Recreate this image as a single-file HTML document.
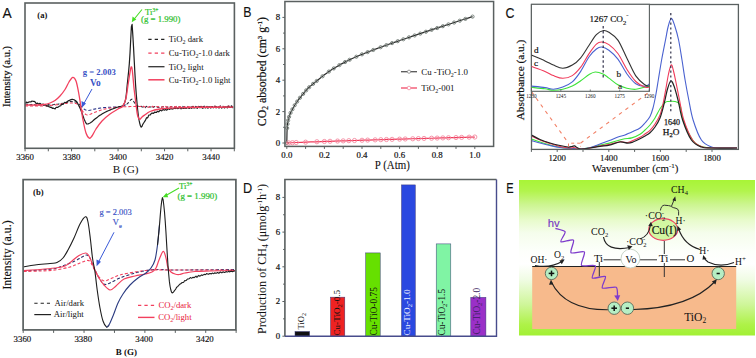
<!DOCTYPE html>
<html><head><meta charset="utf-8"><style>html,body{margin:0;padding:0;background:#fff;}svg{display:block;}</style></head><body>
<svg width="756" height="358" viewBox="0 0 756 358">
<rect width="756" height="358" fill="#fff"/>
<text id="t1" x="2.6" y="17.6" font-family='"Liberation Sans", sans-serif' font-size="14.6" fill="#111" font-weight="normal" text-anchor="start"  textLength="9.2" lengthAdjust="spacingAndGlyphs" stroke="#111" stroke-width="0.12">A</text>
<text id="t2" x="243.2" y="17.1" font-family='"Liberation Sans", sans-serif' font-size="14.6" fill="#111" font-weight="normal" text-anchor="start"  textLength="8.2" lengthAdjust="spacingAndGlyphs" stroke="#111" stroke-width="0.12">B</text>
<text id="t3" x="505.5" y="17.8" font-family='"Liberation Sans", sans-serif' font-size="14.6" fill="#111" font-weight="normal" text-anchor="start"  textLength="9" lengthAdjust="spacingAndGlyphs" stroke="#111" stroke-width="0.12">C</text>
<text id="t4" x="243" y="193" font-family='"Liberation Sans", sans-serif' font-size="14.6" fill="#111" font-weight="normal" text-anchor="start"  textLength="9.2" lengthAdjust="spacingAndGlyphs" stroke="#111" stroke-width="0.12">D</text>
<text id="t5" x="506.2" y="193.3" font-family='"Liberation Sans", sans-serif' font-size="14.6" fill="#111" font-weight="normal" text-anchor="start"  textLength="7.4" lengthAdjust="spacingAndGlyphs" stroke="#111" stroke-width="0.12">E</text>
<path d="M25 104.33 L25.7 104.17 L26.4 104.1 L27.1 104.11 L27.8 104.56 L28.5 104.08 L29.2 104.11 L29.9 104.61 L30.6 104.69 L31.3 104.78 L32 104.36 L32.7 104.76 L33.4 104.83 L34.1 105 L34.8 104.51 L35.5 105.26 L36.2 105.33 L36.9 104.87 L37.6 104.92 L38.3 105.37 L39 104.99 L39.7 104.72 L40.4 104.61 L41.1 105.18 L41.8 105.29 L42.5 104.74 L43.2 104.92 L43.9 105.13 L44.6 104.82 L45.3 104.5 L46 105.02 L46.7 105.14 L47.4 105.01 L48.1 104.5 L48.8 104.85 L49.5 105.08 L50.2 104.84 L50.9 104.43 L51.6 104.77 L52.3 104.95 L53 104.67 L53.7 104.54 L54.4 104.37 L55.1 104.9 L55.8 104.63 L56.5 104.07 L57.2 104.17 L57.9 104.31 L58.6 104.2 L59.3 103.59 L60 104.11 L60.7 103.91 L61.4 103.66 L62.1 103.28 L62.8 103.57 L63.5 103.51 L64.2 102.79 L64.9 103.05 L65.6 103.17 L66.3 102.92 L67 102.58 L67.7 102.1 L68.4 102.5 L69.1 101.94 L69.8 101.67 L70.5 101.41 L71.2 101.58 L71.9 101.85 L72.6 101.33 L73.3 101.39 L74 101.7 L74.7 101.91 L75.4 101.88 L76.1 102.02 L76.8 102.31 L77.5 102.77 L78.2 103.35 L78.9 104 L79.6 104.65 L80.3 105.27" fill="none" stroke="#2a2a3a" stroke-width="1.1" stroke-dasharray="3,2" stroke-linejoin="round"/>
<path d="M80.3 105.27 L81 106 L81.7 106.79 L82.4 107.58 L83.1 108.3 L83.8 108.87 L84.5 109.3 L85.2 109.7 L85.9 110.06 L86.6 110.33 L87.3 110.48 L88 110.49 L88.7 110.43 L89.4 110.33 L90.1 110.2 L90.8 110.04 L91.5 109.86 L92.2 109.67 L92.9 109.48 L93.6 109.3 L94.3 109.14 L95 109 L95.7 108.88 L96.4 108.75 L97.1 108.63 L97.8 108.5 L98.5 108.38 L99.2 108.26 L99.9 108.14 L100.6 108.03 L101.3 107.92 L102 107.82 L102.7 107.73 L103.4 107.65 L104.1 107.58 L104.8 107.52 L105.5 107.46 L106.2 107.42 L106.9 107.38 L107.6 107.35 L108.3 107.32 L109 107.29 L109.7 107.27 L110.4 107.25 L111.1 107.22 L111.8 107.2 L112.5 107.19 L113.2 107.16 L113.9 107.14 L114.6 107.12 L115.3 107.09 L116 107.06 L116.7 107.03 L117.4 106.99 L118.1 106.95 L118.8 106.9 L119.5 106.84 L120.2 106.78 L120.9 106.67 L121.6 106.5 L122.3 106.29 L123 106.03 L123.7 105.74 L124.4 105.41 L125.1 105.06 L125.8 104.68 L126.5 104.29" fill="none" stroke="#2a3488" stroke-width="1.1" stroke-dasharray="3,2" stroke-linejoin="round"/>
<path d="M126.5 104.29 L127.2 103.87 L127.9 103.24 L128.6 102.41 L129.3 101.5 L130 100.61 L130.7 99.86 L131.4 99.35 L132.1 99.21 L132.8 99.92 L133.5 101.18 L134.2 102.29 L134.9 103.42 L135.6 104.57 L136.3 105.51 L137 106 L137.7 106.17 L138.4 106.33 L139.1 106.47 L139.8 106.59 L140.5 106.67 L141.2 106.26 L141.9 106.85 L142.6 106.95 L143.3 107.18 L144 106.78 L144.7 107.08 L145.4 107.57 L146.1 106.41 L146.8 106.55 L147.5 107.6 L148.2 107.02 L148.9 107.13 L149.6 106.67 L150.3 107 L151 106.94 L151.7 106.78 L152.4 106.29 L153.1 107.51 L153.8 106.83 L154.5 106.55 L155.2 106.81 L155.9 107.33 L156.6 107.5 L157.3 106.83 L158 107.12 L158.7 107.48 L159.4 107.28 L160.1 106.83 L160.8 106.64 L161.5 107.27 L162.2 106.74 L162.9 106.69 L163.6 106.88 L164.3 107.09 L165 106.78 L165.7 106.61 L166.4 107.14 L167.1 107.53 L167.8 106.92 L168.5 106.81 L169.2 106.68 L169.9 107.41 L170.6 106.49 L171.3 106.52 L172 106.9 L172.7 107.25 L173.4 106.62 L174.1 106.83 L174.8 107.27 L175.5 107.24 L176.2 106.77 L176.9 106.67 L177.6 106.74 L178.3 107.06 L179 106.58 L179.7 106.45 L180.4 107.56 L181.1 107.15 L181.8 106.38 L182.5 106.38 L183.2 107.2 L183.9 106.76 L184.6 106.52 L185.3 106.49 L186 107.26 L186.7 107.6 L187.4 106.89 L188.1 107.04 L188.8 107.66 L189.5 107.33 L190.2 106.68 L190.9 106.75 L191.6 106.97 L192.3 106.79 L193 106.84 L193.7 106.72 L194.4 107.18 L195.1 106.91 L195.8 106.32 L196.5 107.36 L197.2 107.23 L197.9 106.24 L198.6 106.67 L199.3 106.64 L200 107.6 L200.7 106.59 L201.4 106.14 L202.1 107.19 L202.8 106.75 L203.5 106.42 L204.2 106.15 L204.9 106.9 L205.6 106.89 L206.3 107.08 L207 106.42 L207.7 107.08 L208.4 107.06 L209.1 106.65 L209.8 106.78 L210.5 106.98 L211.2 107.18 L211.9 106.45 L212.6 106.58 L213.3 107.44 L214 106.96 L214.7 106.11 L215.4 106.28 L216.1 107.19 L216.8 106.53 L217.5 106.08 L218.2 106.2 L218.9 107.14 L219.6 106.54 L220.3 105.93 L221 106.34 L221.7 106.78 L222.4 106.53 L223.1 106.28 L223.8 106.96 L224.5 107.04 L225.2 106.77 L225.9 106.53 L226.6 106.94 L227.3 107.21 L228 106.22 L228.7 105.91 L229.4 106.73 L230.1 106.64 L230.8 106.26 L231.5 105.79 L232.2 106.47 L232.9 107.02 L233 106.54" fill="none" stroke="#26283a" stroke-width="1.1" stroke-dasharray="3,2" stroke-linejoin="round"/>
<path d="M25 106 L25.7 106 L26.4 106 L27.1 106 L27.8 106 L28.5 106 L29.2 106 L29.9 106 L30.6 106 L31.3 106 L32 106 L32.7 106 L33.4 106 L34.1 106 L34.8 106 L35.5 106 L36.2 106 L36.9 106 L37.6 106 L38.3 106 L39 106 L39.7 106 L40.4 106 L41.1 105.99 L41.8 105.98 L42.5 105.96 L43.2 105.93 L43.9 105.9 L44.6 105.87 L45.3 105.83 L46 105.78 L46.7 105.74 L47.4 105.69 L48.1 105.63 L48.8 105.57 L49.5 105.51 L50.2 105.45 L50.9 105.39 L51.6 105.32 L52.3 105.26 L53 105.19 L53.7 105.12 L54.4 105.06 L55.1 104.99 L55.8 104.91 L56.5 104.82 L57.2 104.72 L57.9 104.61 L58.6 104.5 L59.3 104.37 L60 104.25 L60.7 104.13 L61.4 104 L62.1 103.89 L62.8 103.78 L63.5 103.68 L64.2 103.59 L64.9 103.51 L65.6 103.44 L66.3 103.37 L67 103.3 L67.7 103.24 L68.4 103.18 L69.1 103.12 L69.8 103.07 L70.5 103.04 L71.2 103.01 L71.9 103 L72.6 103.01 L73.3 103.06 L74 103.14 L74.7 103.25 L75.4 103.37 L76.1 103.52 L76.8 103.83 L77.5 104.35 L78.2 105.01 L78.9 105.76 L79.6 106.55 L80.3 107.36 L81 108.41 L81.7 109.62 L82.4 110.85 L83.1 111.96 L83.8 112.82 L84.5 113.4 L85.2 113.95 L85.9 114.42 L86.6 114.78 L87.3 114.98 L88 114.98 L88.7 114.85 L89.4 114.62 L90.1 114.33 L90.8 114 L91.5 113.65 L92.2 113.32 L92.9 113.04 L93.6 112.79 L94.3 112.53 L95 112.27 L95.7 112 L96.4 111.74 L97.1 111.47 L97.8 111.2 L98.5 110.94 L99.2 110.69 L99.9 110.44 L100.6 110.2 L101.3 109.97 L102 109.75 L102.7 109.55 L103.4 109.36 L104.1 109.19 L104.8 109.04 L105.5 108.9 L106.2 108.77 L106.9 108.64 L107.6 108.52 L108.3 108.39 L109 108.27 L109.7 108.16 L110.4 108.05 L111.1 107.94 L111.8 107.84 L112.5 107.74 L113.2 107.64 L113.9 107.55 L114.6 107.47 L115.3 107.39 L116 107.31 L116.7 107.25 L117.4 107.18 L118.1 107.12 L118.8 107.07 L119.5 107.03 L120.2 106.99 L120.9 106.95 L121.6 106.92 L122.3 106.88 L123 106.85 L123.7 106.81 L124.4 106.78 L125.1 106.75 L125.8 106.72 L126.5 106.69 L127.2 106.66 L127.9 106.64 L128.6 106.61 L129.3 106.59 L130 106.57 L130.7 106.55 L131.4 106.54 L132.1 106.52 L132.8 106.51 L133.5 106.51 L134.2 106.5 L134.9 106.5 L135.6 106.5 L136.3 106.51 L137 106.51 L137.7 106.53 L138.4 106.54 L139.1 106.55 L139.8 106.57 L140.5 106.57 L141.2 106.47 L141.9 106.44 L142.6 107.15 L143.3 106.36 L144 106.6 L144.7 106.95 L145.4 106.81 L146.1 106.52 L146.8 106.68 L147.5 107.13 L148.2 107.26 L148.9 106.94 L149.6 106.47 L150.3 107.22 L151 106.88 L151.7 106.45 L152.4 106.35 L153.1 106.75 L153.8 106.93 L154.5 106.41 L155.2 106.47 L155.9 106.78 L156.6 106.77 L157.3 106.53 L158 106.57 L158.7 106.9 L159.4 106.75 L160.1 106.68 L160.8 106.69 L161.5 107.34 L162.2 107.08 L162.9 106.57 L163.6 106.66 L164.3 106.86 L165 107.07 L165.7 106.34 L166.4 106.84 L167.1 107.14 L167.8 106.71 L168.5 106.48 L169.2 106.71 L169.9 107.33 L170.6 106.59 L171.3 106.73 L172 106.76 L172.7 107.03 L173.4 106.68 L174.1 106.5 L174.8 106.65 L175.5 107.04 L176.2 106.54 L176.9 106.38 L177.6 107.01 L178.3 107.03 L179 106.72 L179.7 106.46 L180.4 106.91 L181.1 106.98 L181.8 106.84 L182.5 106.8 L183.2 107.22 L183.9 107.04 L184.6 106.68 L185.3 106.91 L186 107.26 L186.7 106.92 L187.4 106.3 L188.1 106.5 L188.8 107.16 L189.5 106.88 L190.2 106.56 L190.9 106.47 L191.6 107.18 L192.3 106.8 L193 106.24 L193.7 106.72 L194.4 106.9 L195.1 106.5 L195.8 106.71 L196.5 106.73 L197.2 107.13 L197.9 106.64 L198.6 106.26 L199.3 106.58 L200 106.88 L200.7 106.35 L201.4 106.31 L202.1 107.01 L202.8 106.84 L203.5 106.54 L204.2 106.27 L204.9 106.83 L205.6 107.02 L206.3 106.65 L207 106.81 L207.7 106.78 L208.4 107.18 L209.1 106.58 L209.8 106.43 L210.5 106.8 L211.2 106.74 L211.9 106.48 L212.6 106.65 L213.3 106.69 L214 106.91 L214.7 106.29 L215.4 106.36 L216.1 107.08 L216.8 107 L217.5 106.15 L218.2 106.83 L218.9 106.81 L219.6 106.65 L220.3 106.4 L221 106.52 L221.7 106.67 L222.4 106.9 L223.1 106.52 L223.8 106.42 L224.5 106.72 L225.2 106.79 L225.9 106.5 L226.6 106.9 L227.3 106.78 L228 106.15 L228.7 106.28 L229.4 106.81 L230.1 106.6 L230.8 106.08 L231.5 106.18 L232.2 106.73 L232.9 106.49 L233 106.55" fill="none" stroke="#f2405e" stroke-width="1.1" stroke-dasharray="3,2" stroke-linejoin="round"/>
<path d="M25 102.78 L25.7 102.85 L26.4 102.14 L27.1 102.34 L27.8 102.74 L28.5 102.29 L29.2 101.77 L29.9 101.99 L30.6 101.96 L31.3 101.67 L32 101.07 L32.7 101.27 L33.4 101.31 L34.1 101.42 L34.8 101.56 L35.5 102.65 L36.2 103.6 L36.9 103.43 L37.6 103.06 L38.3 103.83 L39 104.1 L39.7 103.36 L40.4 103.65 L41.1 104.76 L41.8 104.36 L42.5 104.34 L43.2 104.02 L43.9 105.3 L44.6 105.04 L45.3 104.5 L46 105.01 L46.7 106.21 L47.4 106.19 L48.1 105.62 L48.8 106.61 L49.5 106.91 L50.2 107.33 L50.9 107.15 L51.6 107.45 L52.3 108.49 L53 107.98 L53.7 108.35 L54.4 108.5 L55.1 108.97 L55.8 107.7 L56.5 107.33 L57.2 107.27 L57.9 107.29 L58.6 106.86 L59.3 106.14 L60 106 L60.7 105.72 L61.4 104.63 L62.1 104.26 L62.8 104.47 L63.5 103.94 L64.2 102.86 L64.9 102.35 L65.6 102.51 L66.3 102.54 L67 101.64 L67.7 101.14 L68.4 100.64 L69.1 100.72 L69.8 100.12 L70.5 99.85 L71.2 99.6 L71.9 99.45 L72.6 99.4 L73.3 99.51 L74 99.76 L74.7 100.13 L75.4 100.58 L76.1 101.08 L76.8 101.89 L77.5 103.04 L78.2 104.4 L78.9 105.8 L79.6 107.23 L80.3 108.8 L81 110.48 L81.7 112.24 L82.4 114.09 L83.1 116.2 L83.8 118.28 L84.5 120 L85.2 121.5 L85.9 122.91 L86.6 123.84 L87.3 123.98 L88 123.84 L88.7 123.59 L89.4 123.28 L90.1 122.95 L90.8 122.55 L91.5 122.04 L92.2 121.45 L92.9 120.83 L93.6 120.19 L94.3 119.57 L95 119 L95.7 118.47 L96.4 117.93 L97.1 117.4 L97.8 116.87 L98.5 116.35 L99.2 115.85 L99.9 115.35 L100.6 114.88 L101.3 114.43 L102 114 L102.7 113.59 L103.4 113.2 L104.1 112.82 L104.8 112.45 L105.5 112.09 L106.2 111.74 L106.9 111.4 L107.6 111.07 L108.3 110.75 L109 110.44 L109.7 110.13 L110.4 109.83 L111.1 109.54 L111.8 109.25 L112.5 108.98 L113.2 108.7 L113.9 108.44 L114.6 108.18 L115.3 107.93 L116 107.68 L116.7 107.44 L117.4 107.2 L118.1 106.97 L118.8 106.77 L119.5 106.61 L120.2 106.47 L120.9 106.31 L121.6 106.11 L122.3 105.85 L123 105.5 L123.7 104.75 L124.4 103.35 L125.1 101.37 L125.8 98.49 L126.5 92.51 L127.2 85.05 L127.9 78.22 L128.6 71.55 L129.3 63.88 L130 53.34 L130.7 39.72 L131.4 26.56 L132.1 24.33 L132.8 34.79 L133.5 46.63 L134.2 60 L134.9 73.1 L135.6 85 L136.3 94.63 L137 102.9 L137.7 109.94 L138.4 116.19 L139.1 120.46 L139.8 123.59 L140.5 126.03 L141.2 127.18 L141.9 126.52 L142.6 124.84 L143.3 123.51 L144 122.46 L144.7 121.44 L145.4 120.39 L146.1 118.68 L146.8 117.56 L147.5 117.92 L148.2 116.61 L148.9 115.1 L149.6 114.99 L150.3 114.93 L151 113.9 L151.7 113.02 L152.4 113 L153.1 113.47 L153.8 113.15 L154.5 112.14 L155.2 112.39 L155.9 112.25 L156.6 112.39 L157.3 111.34 L158 111.28 L158.7 111.88 L159.4 111.02 L160.1 110.33 L160.8 110.33 L161.5 110.91 L162.2 110.37 L162.9 109.51 L163.6 109.64 L164.3 110.25 L165 109.8 L165.7 109.53 L166.4 110.12 L167.1 109.84 L167.8 108.99 L168.5 108.77 L169.2 109.35 L169.9 109.18 L170.6 108.62 L171.3 108.48 L172 109.04 L172.7 108.94 L173.4 108.7 L174.1 108.39 L174.8 108.2 L175.5 108.58 L176.2 108.03 L176.9 108.02 L177.6 108.67 L178.3 108.45 L179 107.83 L179.7 107.93 L180.4 108.03 L181.1 108.87 L181.8 107.55 L182.5 107.98 L183.2 108.42 L183.9 108.5 L184.6 107.79 L185.3 108.02 L186 108.46 L186.7 107.74 L187.4 107.74 L188.1 107.87 L188.8 108.22 L189.5 108.28 L190.2 107.52 L190.9 107.8 L191.6 108.36 L192.3 107.73 L193 106.89 L193.7 107.88 L194.4 107.83 L195.1 107.78 L195.8 107.13 L196.5 107.39 L197.2 108.45 L197.9 107.62 L198.6 107.01 L199.3 107.29 L200 107.72 L200.7 107.08 L201.4 107.03 L202.1 107.99 L202.8 108.29 L203.5 107.36 L204.2 107.21 L204.9 107.66 L205.6 107.97 L206.3 107.35 L207 107 L207.7 108.05 L208.4 107.83 L209.1 106.98 L209.8 106.89 L210.5 108.03 L211.2 107.8 L211.9 106.97 L212.6 107.1 L213.3 107.86 L214 107.37 L214.7 106.9 L215.4 106.95 L216.1 107.95 L216.8 107.03 L217.5 107.29 L218.2 107.17 L218.9 107.99 L219.6 107.64 L220.3 107.24 L221 107.23 L221.7 108.06 L222.4 107.5 L223.1 107.22 L223.8 107.4 L224.5 107.95 L225.2 107.32 L225.9 107.02 L226.6 106.97 L227.3 107.97 L228 106.93 L228.7 106.96 L229.4 107.41 L230.1 107.48 L230.8 107.41 L231.5 106.4 L232.2 107.3 L232.9 107.74 L233 107.5" fill="none" stroke="#1e1e1e" stroke-width="1.2" stroke-linejoin="round"/>
<path d="M25 105 C26.67 105 31.83 105.08 35 105 C38.17 104.92 41.5 104.83 44 104.5 C46.5 104.17 48.17 103.67 50 103 C51.83 102.33 53.33 101.67 55 100.5 C56.67 99.33 58.33 97.83 60 96 C61.67 94.17 63.5 91.83 65 89.5 C66.5 87.17 67.7 84.03 69 82 C70.3 79.97 71.63 77.47 72.8 77.3 C73.97 77.13 75.05 78.55 76 81 C76.95 83.45 77.75 88.17 78.5 92 C79.25 95.83 79.75 99.33 80.5 104 C81.25 108.67 82.08 115.17 83 120 C83.92 124.83 84.95 129.97 86 133 C87.05 136.03 88.3 137.7 89.3 138.2 C90.3 138.7 90.88 137.53 92 136 C93.12 134.47 94.33 131.5 96 129 C97.67 126.5 99.67 123.5 102 121 C104.33 118.5 107.33 116 110 114 C112.67 112 115.83 110.33 118 109 C120.17 107.67 121.67 107.83 123 106 C124.33 104.17 125.08 102 126 98 C126.92 94 127.57 87.18 128.5 82 C129.43 76.82 130.65 65.57 131.6 66.9 C132.55 68.23 133.43 83.48 134.2 90 C134.97 96.52 135.65 101.83 136.2 106 C136.75 110.17 136.93 112.77 137.5 115 C138.07 117.23 138.85 119.07 139.6 119.4 C140.35 119.73 141.1 117.77 142 117 C142.9 116.23 143.67 115.72 145 114.8 C146.33 113.88 147.5 112.47 150 111.5 C152.5 110.53 155.83 109.62 160 109 C164.17 108.38 168.33 108.08 175 107.8 C181.67 107.52 190.33 107.4 200 107.3 C209.67 107.2 227.5 107.22 233 107.2" fill="none" stroke="#f2405e" stroke-width="1.3" stroke-linejoin="round" />
<rect x="25" y="3" width="209.4" height="145.3" fill="none" stroke="#5a6060" stroke-width="1.6"/>
<line x1="25.05" y1="148.3" x2="25.05" y2="151.3" stroke="#5a6060" stroke-width="1" />
<line x1="48.3" y1="148.3" x2="48.3" y2="151.3" stroke="#5a6060" stroke-width="1" />
<line x1="71.55" y1="148.3" x2="71.55" y2="151.3" stroke="#5a6060" stroke-width="1" />
<line x1="94.8" y1="148.3" x2="94.8" y2="151.3" stroke="#5a6060" stroke-width="1" />
<line x1="118.05" y1="148.3" x2="118.05" y2="151.3" stroke="#5a6060" stroke-width="1" />
<line x1="141.3" y1="148.3" x2="141.3" y2="151.3" stroke="#5a6060" stroke-width="1" />
<line x1="164.55" y1="148.3" x2="164.55" y2="151.3" stroke="#5a6060" stroke-width="1" />
<line x1="187.8" y1="148.3" x2="187.8" y2="151.3" stroke="#5a6060" stroke-width="1" />
<line x1="211.05" y1="148.3" x2="211.05" y2="151.3" stroke="#5a6060" stroke-width="1" />
<line x1="234.3" y1="148.3" x2="234.3" y2="151.3" stroke="#5a6060" stroke-width="1" />
<text id="t6" x="25.05" y="159.8" font-family='"Liberation Serif", serif' font-size="8.8" fill="#111" font-weight="normal" text-anchor="middle"  stroke="#111" stroke-width="0.15">3360</text>
<text id="t7" x="71.55" y="159.8" font-family='"Liberation Serif", serif' font-size="8.8" fill="#111" font-weight="normal" text-anchor="middle"  stroke="#111" stroke-width="0.15">3380</text>
<text id="t8" x="118.05" y="159.8" font-family='"Liberation Serif", serif' font-size="8.8" fill="#111" font-weight="normal" text-anchor="middle"  stroke="#111" stroke-width="0.15">3400</text>
<text id="t9" x="164.55" y="159.8" font-family='"Liberation Serif", serif' font-size="8.8" fill="#111" font-weight="normal" text-anchor="middle"  stroke="#111" stroke-width="0.15">3420</text>
<text id="t10" x="211.05" y="159.8" font-family='"Liberation Serif", serif' font-size="8.8" fill="#111" font-weight="normal" text-anchor="middle"  stroke="#111" stroke-width="0.15">3440</text>
<text id="t11" x="125.6" y="172.9" font-family='"Liberation Serif", serif' font-size="11.2" fill="#111" font-weight="normal" text-anchor="middle" >B (G)</text>
<text id="t12" x="0" y="0" font-family='"Liberation Serif", serif' font-size="10.4" fill="#111" font-weight="normal" text-anchor="middle" transform="translate(9.8,76.5) rotate(-90)" stroke="#111" stroke-width="0.2">Intensity (a.u.)</text>
<text id="t13" x="37.3" y="18.2" font-family='"Liberation Serif", serif' font-size="8.6" fill="#111" font-weight="bold" text-anchor="start" >(a)</text>
<text id="t14" x="82.8" y="75.3" font-family='"Liberation Serif", serif' font-size="9.2" fill="#3850c4" font-weight="bold" text-anchor="start"  textLength="33" lengthAdjust="spacingAndGlyphs">g = 2.003</text>
<text id="t15" x="90" y="86.2" font-family='"Liberation Serif", serif' font-size="9.4" fill="#3850c4" font-weight="bold" text-anchor="start" >Vo</text>
<line x1="92" y1="89" x2="82.5" y2="106" stroke="#3a5ad8" stroke-width="1" />
<path d="M82 107.5 L81.5 101 L86 103.5 Z" fill="#3a5ad8"/>
<text id="t16" x="145" y="15" font-family='"Liberation Serif", serif' font-size="8.8" fill="#2cc02c" font-weight="normal" text-anchor="start"  stroke="#2cc02c" stroke-width="0.2">Ti<tspan dy="-3.2" font-size="5.6">3+</tspan><tspan dy="3.2">&#8203;</tspan></text>
<text id="t17" x="141" y="22" font-family='"Liberation Serif", serif' font-size="8.8" fill="#2cc02c" font-weight="normal" text-anchor="start"  stroke="#2cc02c" stroke-width="0.2">(g = 1.990)</text>
<line x1="142" y1="9.5" x2="133" y2="20.5" stroke="#44dd22" stroke-width="1.1" />
<path d="M131.8 22.3 L132.6 16.5 L136.3 19.6 Z" fill="#44dd22"/>
<line x1="148.3" y1="39.4" x2="164.5" y2="39.4" stroke="#222" stroke-width="1.1" stroke-dasharray="3.3,3.1"/>
<line x1="148.3" y1="53.1" x2="164.5" y2="53.1" stroke="#f2405e" stroke-width="1.1" stroke-dasharray="3.3,3.1"/>
<line x1="148.3" y1="66.7" x2="164.5" y2="66.7" stroke="#333" stroke-width="1.3" />
<line x1="148.3" y1="79.8" x2="164.5" y2="79.8" stroke="#f2405e" stroke-width="1.5" />
<text id="t18" x="168.8" y="42.2" font-family='"Liberation Serif", serif' font-size="8.7" fill="#111" font-weight="normal" text-anchor="start" >TiO<tspan dy="2" font-size="6">2</tspan><tspan dy="-2">&#8203;</tspan> dark</text>
<text id="t19" x="168.8" y="55.9" font-family='"Liberation Serif", serif' font-size="8.7" fill="#111" font-weight="normal" text-anchor="start" >Cu-TiO<tspan dy="2" font-size="6">2</tspan><tspan dy="-2">&#8203;</tspan>-1.0 dark</text>
<text id="t20" x="168.8" y="69.5" font-family='"Liberation Serif", serif' font-size="8.7" fill="#111" font-weight="normal" text-anchor="start" >TiO<tspan dy="2" font-size="6">2</tspan><tspan dy="-2">&#8203;</tspan> light</text>
<text id="t21" x="168.8" y="82.6" font-family='"Liberation Serif", serif' font-size="8.7" fill="#111" font-weight="normal" text-anchor="start" >Cu-TiO<tspan dy="2" font-size="6">2</tspan><tspan dy="-2">&#8203;</tspan>-1.0 light</text>
<path d="M23.5 271 C26.25 270.83 34.75 270.42 40 270 C45.25 269.58 50.83 269.33 55 268.5 C59.17 267.67 61.67 266.25 65 265 C68.33 263.75 72.17 262.33 75 261 C77.83 259.67 80.03 258 82 257 C83.97 256 85.47 254.83 86.8 255 C88.13 255.17 88.97 256.17 90 258 C91.03 259.83 91.83 263.33 93 266 C94.17 268.67 95.67 271.5 97 274 C98.33 276.5 99.67 279.27 101 281 C102.33 282.73 103.5 284.07 105 284.4 C106.5 284.73 107.5 284.07 110 283 C112.5 281.93 115.83 279.67 120 278 C124.17 276.33 130 274.33 135 273 C140 271.67 145.83 270.58 150 270 C154.17 269.42 155.83 269.5 160 269.5 C164.17 269.5 162.5 270 175 270 C187.5 270 225 269.58 235 269.5" fill="none" stroke="#2b2f6a" stroke-width="1.1" stroke-dasharray="3,2" stroke-linejoin="round" />
<path d="M23.5 271.5 C26.25 271.42 34.75 271.25 40 271 C45.25 270.75 50 270.67 55 270 C60 269.33 65.83 268.17 70 267 C74.17 265.83 77.07 264.1 80 263 C82.93 261.9 85.77 260.4 87.6 260.4 C89.43 260.4 89.77 261.23 91 263 C92.23 264.77 93.67 268.67 95 271 C96.33 273.33 97.47 275.33 99 277 C100.53 278.67 102.37 280.67 104.2 281 C106.03 281.33 107.37 280 110 279 C112.63 278 115.83 276.17 120 275 C124.17 273.83 130 272.83 135 272 C140 271.17 144.17 270.33 150 270 C155.83 269.67 155.83 270 170 270 C184.17 270 224.17 270 235 270" fill="none" stroke="#f2405e" stroke-width="1.1" stroke-dasharray="3,2" stroke-linejoin="round" />
<path d="M23.5 270.5 C26.25 270.33 34.75 269.92 40 269.5 C45.25 269.08 50.83 268.58 55 268 C59.17 267.42 62.17 267.17 65 266 C67.83 264.83 69.67 262.75 72 261 C74.33 259.25 76.68 256.83 79 255.5 C81.32 254.17 84.23 252.92 85.9 253 C87.57 253.08 87.98 254.33 89 256 C90.02 257.67 91 260.67 92 263 C93 265.33 93.83 267.5 95 270 C96.17 272.5 97.5 275.5 99 278 C100.5 280.5 102.17 283 104 285 C105.83 287 108 289.83 110 290 C112 290.17 113.67 287.83 116 286 C118.33 284.17 120.83 280.67 124 279 C127.17 277.33 131.5 276.83 135 276 C138.5 275.17 142.17 274.67 145 274 C147.83 273.33 150.17 273 152 272 C153.83 271 154.83 270 156 268 C157.17 266 157.8 262.77 159 260 C160.2 257.23 162.03 251.73 163.2 251.4 C164.37 251.07 165.2 255.23 166 258 C166.8 260.77 167.17 265.67 168 268 C168.83 270.33 169.83 271 171 272 C172.17 273 173.63 273.58 175 274 C176.37 274.42 177.53 274.67 179.2 274.5 C180.87 274.33 182.37 273.5 185 273 C187.63 272.5 190.83 271.83 195 271.5 C199.17 271.17 203.33 271.17 210 271 C216.67 270.83 230.83 270.58 235 270.5" fill="none" stroke="#f2405e" stroke-width="1.2" stroke-linejoin="round" />
<path d="M23.5 266.8 C25.42 266.5 30.58 265.55 35 265 C39.42 264.45 46.33 263.9 50 263.5 C53.67 263.1 54.83 263.52 57 262.6 C59.17 261.68 61.17 260.1 63 258 C64.83 255.9 66.17 253.33 68 250 C69.83 246.67 72 242.33 74 238 C76 233.67 78.1 227.53 80 224 C81.9 220.47 84.07 217.13 85.4 216.8 C86.73 216.47 87.15 218.13 88 222 C88.85 225.87 89.75 234 90.5 240 C91.25 246 91.75 252.67 92.5 258 C93.25 263.33 94.22 266.67 95 272 C95.78 277.33 96.37 284 97.2 290 C98.03 296 99.03 302.83 100 308 C100.97 313.17 101.92 317.83 103 321 C104.08 324.17 105.5 326.33 106.5 327 C107.5 327.67 108.58 325.33 109 325" fill="none" stroke="#1e1e1e" stroke-width="1.1" stroke-linejoin="round" />
<path d="M106.5 327 C106.92 326.67 107.92 326.83 109 325 C110.08 323.17 111.5 319.67 113 316 C114.5 312.33 116.33 306.67 118 303 C119.67 299.33 121 297 123 294 C125 291 127.5 287.67 130 285 C132.5 282.33 135.33 280 138 278 C140.67 276 143.83 274.67 146 273 C148.17 271.33 149.5 270.17 151 268 C152.5 265.83 153.92 263.83 155 260 C156.08 256.17 156.75 250.83 157.5 245 C158.25 239.17 159.17 228.33 159.5 225" fill="none" stroke="#2a3a80" stroke-width="1.1" stroke-linejoin="round" />
<path d="M157.5 245 L158.2 238.49 L158.9 231.43 L159.6 223.87 L160.3 214.84 L161 207 L161.7 201.07 L162.4 197.57 L163.1 199.65 L163.8 205.29 L164.5 211.96 L165.2 220.85 L165.9 231.17 L166.6 243.35 L167.3 254.74 L168 265.49 L168.7 274.28 L169.4 281.64 L170.1 286.5 L170.8 289.77 L171.5 292.14 L172.2 292.89 L172.9 292.54 L173.6 291.8 L174.3 290.89 L175 290 L175.7 289.1 L176.4 287.66 L177.1 286.85 L177.8 286.43 L178.5 285.72 L179.2 284.76 L179.9 284.03 L180.6 283.95 L181.3 283.25 L182 282.61 L182.7 282.45 L183.4 282.36 L184.1 281.58 L184.8 280.45 L185.5 280.79 L186.2 280.54 L186.9 279.57 L187.6 278.95 L188.3 279.06 L189 278.84 L189.7 278.1 L190.4 277.57 L191.1 277.97 L191.8 278.22 L192.5 277.52 L193.2 277.24 L193.9 277.69 L194.6 277.26 L195.3 276.8 L196 276.2 L196.7 277.09 L197.4 276.96 L198.1 275.89 L198.8 275.44 L199.5 276.14 L200.2 276.04 L200.9 275.42 L201.6 274.93 L202.3 275.39 L203 275.07 L203.7 274.65 L204.4 274.35 L205.1 274.66 L205.8 274.52 L206.5 273.64 L207.2 273.78 L207.9 274.12 L208.6 274.27 L209.3 273.52 L210 273.72 L210.7 273.58 L211.4 273.94 L212.1 273.29 L212.8 273.15 L213.5 273.68 L214.2 273.46 L214.9 272.71 L215.6 273.31 L216.3 273.3 L217 272.84 L217.7 272.45 L218.4 273.1 L219.1 273.09 L219.8 272.28 L220.5 272.05 L221.2 272.61 L221.9 272.74 L222.6 272.14 L223.3 271.85 L224 272.42 L224.7 272.54 L225.4 272.05 L226.1 271.59 L226.8 271.89 L227.5 271.94 L228.2 271.64 L228.9 271.01 L229.6 271.87 L230.3 271.57 L231 271.14 L231.7 271.35 L232.4 271.63 L233.1 271.42 L233.8 271.01 L234.5 271 L235 271.16" fill="none" stroke="#1e1e1e" stroke-width="1.1" stroke-linejoin="round"/>
<rect x="23.1" y="179.6" width="212.8" height="150.29999999999998" fill="none" stroke="#5a6060" stroke-width="1.7"/>
<line x1="23.2" y1="329.9" x2="23.2" y2="332.9" stroke="#5a6060" stroke-width="1" />
<line x1="53.62" y1="329.9" x2="53.62" y2="332.9" stroke="#5a6060" stroke-width="1" />
<line x1="84.04" y1="329.9" x2="84.04" y2="332.9" stroke="#5a6060" stroke-width="1" />
<line x1="114.46" y1="329.9" x2="114.46" y2="332.9" stroke="#5a6060" stroke-width="1" />
<line x1="144.88" y1="329.9" x2="144.88" y2="332.9" stroke="#5a6060" stroke-width="1" />
<line x1="175.3" y1="329.9" x2="175.3" y2="332.9" stroke="#5a6060" stroke-width="1" />
<line x1="205.72" y1="329.9" x2="205.72" y2="332.9" stroke="#5a6060" stroke-width="1" />
<line x1="236.14" y1="329.9" x2="236.14" y2="332.9" stroke="#5a6060" stroke-width="1" />
<text id="t22" x="22.4" y="341.7" font-family='"Liberation Serif", serif' font-size="8.8" fill="#111" font-weight="normal" text-anchor="middle"  stroke="#111" stroke-width="0.15">3360</text>
<text id="t23" x="83.24" y="341.7" font-family='"Liberation Serif", serif' font-size="8.8" fill="#111" font-weight="normal" text-anchor="middle"  stroke="#111" stroke-width="0.15">3380</text>
<text id="t24" x="144.08" y="341.7" font-family='"Liberation Serif", serif' font-size="8.8" fill="#111" font-weight="normal" text-anchor="middle"  stroke="#111" stroke-width="0.15">3400</text>
<text id="t25" x="204.92" y="341.7" font-family='"Liberation Serif", serif' font-size="8.8" fill="#111" font-weight="normal" text-anchor="middle"  stroke="#111" stroke-width="0.15">3420</text>
<text id="t26" x="126.4" y="354.5" font-family='"Liberation Serif", serif' font-size="9" fill="#111" font-weight="bold" text-anchor="middle" >B (G)</text>
<text id="t27" x="0" y="0" font-family='"Liberation Serif", serif' font-size="11.8" fill="#111" font-weight="normal" text-anchor="middle" transform="translate(11.1,255) rotate(-90)" stroke="#111" stroke-width="0.15">Intensity (a.u.)</text>
<text id="t28" x="33.1" y="195.4" font-family='"Liberation Serif", serif' font-size="8.6" fill="#111" font-weight="bold" text-anchor="start" >(b)</text>
<text id="t29" x="99.5" y="215" font-family='"Liberation Serif", serif' font-size="9" fill="#3850c4" font-weight="normal" text-anchor="start"  textLength="32.3" lengthAdjust="spacingAndGlyphs" stroke="#3850c4" stroke-width="0.15">g = 2.003</text>
<text id="t30" x="112.5" y="225.3" font-family='"Liberation Serif", serif' font-size="9" fill="#3850c4" font-weight="normal" text-anchor="start"  stroke="#3850c4" stroke-width="0.15">V<tspan dy="2.2" font-size="6.5">e</tspan><tspan dy="-2.2">&#8203;</tspan></text>
<line x1="114" y1="232.3" x2="97.5" y2="264" stroke="#3a5ad8" stroke-width="1" />
<path d="M96.6 266.2 L96.5 259.5 L101 261.8 Z" fill="#3a5ad8"/>
<text id="t31" x="179" y="189.1" font-family='"Liberation Serif", serif' font-size="8.8" fill="#2cc02c" font-weight="normal" text-anchor="start"  stroke="#2cc02c" stroke-width="0.2">Ti<tspan dy="-3.2" font-size="5.6">3+</tspan><tspan dy="3.2">&#8203;</tspan></text>
<text id="t32" x="177.5" y="199" font-family='"Liberation Serif", serif' font-size="8.9" fill="#2cc02c" font-weight="normal" text-anchor="start"  stroke="#2cc02c" stroke-width="0.2">(g = 1.990)</text>
<line x1="179" y1="188" x2="165" y2="196" stroke="#44dd22" stroke-width="1.1" />
<path d="M162.7 197.3 L166.5 192.8 L168.2 197.2 Z" fill="#44dd22"/>
<line x1="34.3" y1="303.2" x2="50" y2="303.2" stroke="#222" stroke-width="1.1" stroke-dasharray="3.3,3"/>
<line x1="34.3" y1="314.6" x2="51" y2="314.6" stroke="#222" stroke-width="1.2" />
<text id="t33" x="54.6" y="305.6" font-family='"Liberation Serif", serif' font-size="8.7" fill="#111" font-weight="normal" text-anchor="start" >Air/dark</text>
<text id="t34" x="53.8" y="317.2" font-family='"Liberation Serif", serif' font-size="8.7" fill="#111" font-weight="normal" text-anchor="start" >Air/light</text>
<line x1="138" y1="305.4" x2="154.5" y2="305.4" stroke="#f2405e" stroke-width="1.1" stroke-dasharray="3.3,3.1"/>
<line x1="138" y1="317.4" x2="154.5" y2="317.4" stroke="#f2405e" stroke-width="1.4" />
<text id="t35" x="158.4" y="308.2" font-family='"Liberation Serif", serif' font-size="8.7" fill="#e8203c" font-weight="normal" text-anchor="start" >CO<tspan dy="2" font-size="6">2</tspan><tspan dy="-2">&#8203;</tspan>/dark</text>
<text id="t36" x="158.2" y="319.8" font-family='"Liberation Serif", serif' font-size="8.7" fill="#e8203c" font-weight="normal" text-anchor="start" >CO<tspan dy="2" font-size="6">2</tspan><tspan dy="-2">&#8203;</tspan>/light</text>
<path d="M286.8 143 L286.99 132.53 L287.19 127.94 L287.38 125.59 L287.58 123.73 L287.77 122.27 L287.97 121.12 L288.16 120.18 L288.36 119.39 L288.55 118.65 L288.74 117.91 L288.94 117.21 L289.13 116.56 L289.33 115.95 L289.52 115.38 L289.72 114.85 L289.91 114.34 L290.11 113.86 L290.3 113.41 L290.5 112.99 L290.69 112.58 L290.88 112.18 L291.08 111.8 L291.27 111.43 L291.47 111.07 L291.66 110.71 L291.86 110.35 L292.05 109.99 L292.25 109.62 L292.44 109.25 L294.72 105.21 L297 101.75 L299.28 98.62 L301.56 95.77 L303.84 93.06 L306.12 90.44 L308.4 88.02 L310.68 85.89 L312.96 83.96 L315.24 82.14 L317.52 80.32 L319.8 78.47 L322.08 76.63 L324.36 74.85 L326.64 73.15 L328.92 71.56 L331.2 70.07 L333.48 68.63 L335.76 67.24 L338.04 65.9 L340.32 64.6 L342.6 63.35 L344.88 62.14 L347.16 60.98 L349.43 59.87 L351.71 58.79 L353.99 57.75 L356.27 56.75 L358.55 55.77 L360.83 54.82 L363.11 53.89 L365.39 52.99 L367.67 52.1 L369.95 51.22 L372.23 50.36 L374.51 49.51 L376.79 48.65 L379.07 47.8 L381.35 46.95 L383.63 46.12 L385.91 45.29 L388.19 44.48 L390.47 43.68 L392.75 42.89 L395.03 42.1 L397.31 41.32 L399.59 40.55 L401.87 39.78 L404.15 39.01 L406.43 38.24 L408.71 37.46 L410.99 36.69 L413.27 35.93 L415.55 35.17 L417.83 34.41 L420.11 33.66 L422.39 32.9 L424.67 32.15 L426.95 31.4 L429.23 30.66 L431.51 29.91 L433.79 29.16 L436.07 28.42 L438.35 27.67 L440.63 26.93 L442.91 26.18 L445.19 25.44 L447.47 24.7 L449.75 23.96 L452.03 23.22 L454.31 22.48 L456.59 21.74 L458.87 21.01 L461.15 20.27 L463.42 19.54 L465.7 18.81 L467.98 18.07 L470.26 17.34 L472.54 16.61" fill="none" stroke="#2a2a2a" stroke-width="1.2"/>
<circle cx="286.8" cy="143" r="1.6" fill="none" stroke="#758079" stroke-width="0.95"/>
<circle cx="287.18" cy="128.11" r="1.6" fill="none" stroke="#758079" stroke-width="0.95"/>
<circle cx="287.55" cy="123.96" r="1.6" fill="none" stroke="#758079" stroke-width="0.95"/>
<circle cx="288.12" cy="120.39" r="1.6" fill="none" stroke="#758079" stroke-width="0.95"/>
<circle cx="289.06" cy="116.82" r="1.6" fill="none" stroke="#758079" stroke-width="0.95"/>
<circle cx="290.56" cy="112.85" r="1.6" fill="none" stroke="#758079" stroke-width="0.95"/>
<circle cx="292.44" cy="109.25" r="1.6" fill="none" stroke="#758079" stroke-width="0.95"/>
<circle cx="294.7" cy="105.25" r="1.6" fill="none" stroke="#758079" stroke-width="0.95"/>
<circle cx="297.14" cy="101.55" r="1.6" fill="none" stroke="#758079" stroke-width="0.95"/>
<circle cx="299.96" cy="97.75" r="1.6" fill="none" stroke="#758079" stroke-width="0.95"/>
<circle cx="303.16" cy="93.86" r="1.6" fill="none" stroke="#758079" stroke-width="0.95"/>
<circle cx="306.16" cy="90.39" r="1.6" fill="none" stroke="#758079" stroke-width="0.95"/>
<circle cx="309.17" cy="87.27" r="1.6" fill="none" stroke="#758079" stroke-width="0.95"/>
<circle cx="313.12" cy="83.83" r="1.6" fill="none" stroke="#758079" stroke-width="0.95"/>
<circle cx="316.69" cy="80.98" r="1.6" fill="none" stroke="#758079" stroke-width="0.95"/>
<circle cx="322.52" cy="76.28" r="1.6" fill="none" stroke="#758079" stroke-width="0.95"/>
<circle cx="328.91" cy="71.57" r="1.6" fill="none" stroke="#758079" stroke-width="0.95"/>
<circle cx="333.8" cy="68.43" r="1.6" fill="none" stroke="#758079" stroke-width="0.95"/>
<circle cx="339.44" cy="65.09" r="1.6" fill="none" stroke="#758079" stroke-width="0.95"/>
<circle cx="345.08" cy="62.04" r="1.6" fill="none" stroke="#758079" stroke-width="0.95"/>
<circle cx="349.59" cy="59.79" r="1.6" fill="none" stroke="#758079" stroke-width="0.95"/>
<circle cx="356.36" cy="56.71" r="1.6" fill="none" stroke="#758079" stroke-width="0.95"/>
<circle cx="362" cy="54.34" r="1.6" fill="none" stroke="#758079" stroke-width="0.95"/>
<circle cx="367.64" cy="52.11" r="1.6" fill="none" stroke="#758079" stroke-width="0.95"/>
<circle cx="373.28" cy="49.97" r="1.6" fill="none" stroke="#758079" stroke-width="0.95"/>
<circle cx="380.61" cy="47.23" r="1.6" fill="none" stroke="#758079" stroke-width="0.95"/>
<circle cx="386.44" cy="45.1" r="1.6" fill="none" stroke="#758079" stroke-width="0.95"/>
<circle cx="392.08" cy="43.12" r="1.6" fill="none" stroke="#758079" stroke-width="0.95"/>
<circle cx="397.72" cy="41.18" r="1.6" fill="none" stroke="#758079" stroke-width="0.95"/>
<circle cx="403.36" cy="39.27" r="1.6" fill="none" stroke="#758079" stroke-width="0.95"/>
<circle cx="409" cy="37.36" r="1.6" fill="none" stroke="#758079" stroke-width="0.95"/>
<circle cx="414.64" cy="35.47" r="1.6" fill="none" stroke="#758079" stroke-width="0.95"/>
<circle cx="420.28" cy="33.6" r="1.6" fill="none" stroke="#758079" stroke-width="0.95"/>
<circle cx="425.92" cy="31.74" r="1.6" fill="none" stroke="#758079" stroke-width="0.95"/>
<circle cx="431.56" cy="29.89" r="1.6" fill="none" stroke="#758079" stroke-width="0.95"/>
<circle cx="437.2" cy="28.05" r="1.6" fill="none" stroke="#758079" stroke-width="0.95"/>
<circle cx="442.84" cy="26.21" r="1.6" fill="none" stroke="#758079" stroke-width="0.95"/>
<circle cx="448.48" cy="24.37" r="1.6" fill="none" stroke="#758079" stroke-width="0.95"/>
<circle cx="454.12" cy="22.54" r="1.6" fill="none" stroke="#758079" stroke-width="0.95"/>
<circle cx="459.76" cy="20.72" r="1.6" fill="none" stroke="#758079" stroke-width="0.95"/>
<circle cx="465.4" cy="18.9" r="1.6" fill="none" stroke="#758079" stroke-width="0.95"/>
<circle cx="472.54" cy="16.61" r="1.6" fill="none" stroke="#758079" stroke-width="0.95"/>
<path d="M286.8 143 L291.62 142.73 L296.44 142.52 L301.26 142.33 L306.08 142.14 L310.9 141.96 L315.72 141.78 L320.54 141.61 L325.36 141.45 L330.18 141.28 L335.01 141.12 L339.83 140.97 L344.65 140.81 L349.47 140.66 L354.29 140.5 L359.11 140.35 L363.93 140.2 L368.75 140.05 L373.57 139.91 L378.39 139.76 L383.21 139.62 L388.03 139.47 L392.85 139.33 L397.67 139.19 L402.49 139.05 L407.31 138.91 L412.13 138.77 L416.95 138.64 L421.77 138.5 L426.59 138.36 L431.42 138.23 L436.24 138.09 L441.06 137.96 L445.88 137.82 L450.7 137.69 L455.52 137.56 L460.34 137.43 L465.16 137.3 L469.98 137.16 L474.8 137.03" fill="none" stroke="#f03a5a" stroke-width="1.2"/>
<circle cx="288.68" cy="142.88" r="2.1" fill="none" stroke="#f48aa0" stroke-width="0.9"/>
<circle cx="292.44" cy="142.7" r="2.1" fill="none" stroke="#f48aa0" stroke-width="0.9"/>
<circle cx="296.2" cy="142.53" r="2.1" fill="none" stroke="#f48aa0" stroke-width="0.9"/>
<circle cx="305.6" cy="142.16" r="2.1" fill="none" stroke="#f48aa0" stroke-width="0.9"/>
<circle cx="316.88" cy="141.74" r="2.1" fill="none" stroke="#f48aa0" stroke-width="0.9"/>
<circle cx="324.4" cy="141.48" r="2.1" fill="none" stroke="#f48aa0" stroke-width="0.9"/>
<circle cx="330.04" cy="141.29" r="2.1" fill="none" stroke="#f48aa0" stroke-width="0.9"/>
<circle cx="337.56" cy="141.04" r="2.1" fill="none" stroke="#f48aa0" stroke-width="0.9"/>
<circle cx="343.2" cy="140.86" r="2.1" fill="none" stroke="#f48aa0" stroke-width="0.9"/>
<circle cx="348.84" cy="140.68" r="2.1" fill="none" stroke="#f48aa0" stroke-width="0.9"/>
<circle cx="354.48" cy="140.5" r="2.1" fill="none" stroke="#f48aa0" stroke-width="0.9"/>
<circle cx="362" cy="140.26" r="2.1" fill="none" stroke="#f48aa0" stroke-width="0.9"/>
<circle cx="367.64" cy="140.09" r="2.1" fill="none" stroke="#f48aa0" stroke-width="0.9"/>
<circle cx="375.16" cy="139.86" r="2.1" fill="none" stroke="#f48aa0" stroke-width="0.9"/>
<circle cx="380.8" cy="139.69" r="2.1" fill="none" stroke="#f48aa0" stroke-width="0.9"/>
<circle cx="386.44" cy="139.52" r="2.1" fill="none" stroke="#f48aa0" stroke-width="0.9"/>
<circle cx="392.08" cy="139.36" r="2.1" fill="none" stroke="#f48aa0" stroke-width="0.9"/>
<circle cx="399.6" cy="139.14" r="2.1" fill="none" stroke="#f48aa0" stroke-width="0.9"/>
<circle cx="405.24" cy="138.97" r="2.1" fill="none" stroke="#f48aa0" stroke-width="0.9"/>
<circle cx="412.76" cy="138.76" r="2.1" fill="none" stroke="#f48aa0" stroke-width="0.9"/>
<circle cx="418.4" cy="138.59" r="2.1" fill="none" stroke="#f48aa0" stroke-width="0.9"/>
<circle cx="424.04" cy="138.43" r="2.1" fill="none" stroke="#f48aa0" stroke-width="0.9"/>
<circle cx="431.56" cy="138.22" r="2.1" fill="none" stroke="#f48aa0" stroke-width="0.9"/>
<circle cx="437.2" cy="138.06" r="2.1" fill="none" stroke="#f48aa0" stroke-width="0.9"/>
<circle cx="442.84" cy="137.91" r="2.1" fill="none" stroke="#f48aa0" stroke-width="0.9"/>
<circle cx="448.48" cy="137.75" r="2.1" fill="none" stroke="#f48aa0" stroke-width="0.9"/>
<circle cx="456" cy="137.55" r="2.1" fill="none" stroke="#f48aa0" stroke-width="0.9"/>
<circle cx="461.64" cy="137.39" r="2.1" fill="none" stroke="#f48aa0" stroke-width="0.9"/>
<circle cx="469.16" cy="137.19" r="2.1" fill="none" stroke="#f48aa0" stroke-width="0.9"/>
<circle cx="474.8" cy="137.03" r="2.1" fill="none" stroke="#f48aa0" stroke-width="0.9"/>
<rect x="284.9" y="1.5" width="208.70000000000005" height="144.9" fill="none" stroke="#5a6060" stroke-width="1.5"/>
<line x1="286.8" y1="146.4" x2="286.8" y2="148.9" stroke="#5a6060" stroke-width="1" />
<line x1="305.6" y1="146.4" x2="305.6" y2="148.9" stroke="#5a6060" stroke-width="1" />
<line x1="324.4" y1="146.4" x2="324.4" y2="148.9" stroke="#5a6060" stroke-width="1" />
<line x1="343.2" y1="146.4" x2="343.2" y2="148.9" stroke="#5a6060" stroke-width="1" />
<line x1="362" y1="146.4" x2="362" y2="148.9" stroke="#5a6060" stroke-width="1" />
<line x1="380.8" y1="146.4" x2="380.8" y2="148.9" stroke="#5a6060" stroke-width="1" />
<line x1="399.6" y1="146.4" x2="399.6" y2="148.9" stroke="#5a6060" stroke-width="1" />
<line x1="418.4" y1="146.4" x2="418.4" y2="148.9" stroke="#5a6060" stroke-width="1" />
<line x1="437.2" y1="146.4" x2="437.2" y2="148.9" stroke="#5a6060" stroke-width="1" />
<line x1="456" y1="146.4" x2="456" y2="148.9" stroke="#5a6060" stroke-width="1" />
<line x1="474.8" y1="146.4" x2="474.8" y2="148.9" stroke="#5a6060" stroke-width="1" />
<text id="t37" x="286.8" y="157.7" font-family='"Liberation Serif", serif' font-size="8.8" fill="#111" font-weight="normal" text-anchor="middle"  stroke="#111" stroke-width="0.2">0.0</text>
<text id="t38" x="324.4" y="157.7" font-family='"Liberation Serif", serif' font-size="8.8" fill="#111" font-weight="normal" text-anchor="middle"  stroke="#111" stroke-width="0.2">0.2</text>
<text id="t39" x="362" y="157.7" font-family='"Liberation Serif", serif' font-size="8.8" fill="#111" font-weight="normal" text-anchor="middle"  stroke="#111" stroke-width="0.2">0.4</text>
<text id="t40" x="399.6" y="157.7" font-family='"Liberation Serif", serif' font-size="8.8" fill="#111" font-weight="normal" text-anchor="middle"  stroke="#111" stroke-width="0.2">0.6</text>
<text id="t41" x="437.2" y="157.7" font-family='"Liberation Serif", serif' font-size="8.8" fill="#111" font-weight="normal" text-anchor="middle"  stroke="#111" stroke-width="0.2">0.8</text>
<text id="t42" x="474.8" y="157.7" font-family='"Liberation Serif", serif' font-size="8.8" fill="#111" font-weight="normal" text-anchor="middle"  stroke="#111" stroke-width="0.2">1.0</text>
<line x1="282.4" y1="143" x2="284.9" y2="143" stroke="#5a6060" stroke-width="1" />
<line x1="283.1" y1="127.3" x2="284.9" y2="127.3" stroke="#5a6060" stroke-width="1" />
<line x1="282.4" y1="111.6" x2="284.9" y2="111.6" stroke="#5a6060" stroke-width="1" />
<line x1="283.1" y1="95.9" x2="284.9" y2="95.9" stroke="#5a6060" stroke-width="1" />
<line x1="282.4" y1="80.2" x2="284.9" y2="80.2" stroke="#5a6060" stroke-width="1" />
<line x1="283.1" y1="64.5" x2="284.9" y2="64.5" stroke="#5a6060" stroke-width="1" />
<line x1="282.4" y1="48.8" x2="284.9" y2="48.8" stroke="#5a6060" stroke-width="1" />
<line x1="283.1" y1="33.1" x2="284.9" y2="33.1" stroke="#5a6060" stroke-width="1" />
<line x1="282.4" y1="17.4" x2="284.9" y2="17.4" stroke="#5a6060" stroke-width="1" />
<text id="t43" x="278" y="145.9" font-family='"Liberation Serif", serif' font-size="8.8" fill="#111" font-weight="normal" text-anchor="middle"  stroke="#111" stroke-width="0.2">0</text>
<text id="t44" x="278" y="114.5" font-family='"Liberation Serif", serif' font-size="8.8" fill="#111" font-weight="normal" text-anchor="middle"  stroke="#111" stroke-width="0.2">2</text>
<text id="t45" x="278" y="83.1" font-family='"Liberation Serif", serif' font-size="8.8" fill="#111" font-weight="normal" text-anchor="middle"  stroke="#111" stroke-width="0.2">4</text>
<text id="t46" x="278" y="51.7" font-family='"Liberation Serif", serif' font-size="8.8" fill="#111" font-weight="normal" text-anchor="middle"  stroke="#111" stroke-width="0.2">6</text>
<text id="t47" x="278" y="20.3" font-family='"Liberation Serif", serif' font-size="8.8" fill="#111" font-weight="normal" text-anchor="middle"  stroke="#111" stroke-width="0.2">8</text>
<text id="t48" x="392.3" y="169.3" font-family='"Liberation Serif", serif' font-size="11.6" fill="#111" font-weight="normal" text-anchor="middle"  textLength="35" lengthAdjust="spacingAndGlyphs" stroke="#111" stroke-width="0.1">P (Atm)</text>
<text id="t49" x="0" y="0" font-family='"Liberation Serif", serif' font-size="11.8" fill="#111" font-weight="normal" text-anchor="middle" transform="translate(265.8,71.6) rotate(-90)" stroke="#111" stroke-width="0.2">CO<tspan dy="2.5" font-size="7.5">2</tspan><tspan dy="-2.5">&#8203;</tspan> absorbed (cm<tspan dy="-4" font-size="7">3</tspan><tspan dy="4">&#8203;</tspan> g<tspan dy="-4" font-size="7">-1</tspan><tspan dy="4">&#8203;</tspan>)</text>
<line x1="401" y1="71.7" x2="417" y2="71.7" stroke="#555" stroke-width="1.3" />
<circle cx="409" cy="71.7" r="1.6" fill="#fff" stroke="#888" stroke-width="0.8"/>
<line x1="401" y1="88" x2="417" y2="88" stroke="#f03a5a" stroke-width="1.2" />
<circle cx="409" cy="88" r="1.8" fill="#fff" stroke="#f48aa0" stroke-width="0.8"/>
<text id="t50" x="421.3" y="74.6" font-family='"Liberation Serif", serif' font-size="8.9" fill="#111" font-weight="normal" text-anchor="start" >Cu -TiO<tspan dy="2" font-size="6">2</tspan><tspan dy="-2">&#8203;</tspan>-1.0</text>
<text id="t51" x="421.3" y="90.8" font-family='"Liberation Serif", serif' font-size="8.9" fill="#111" font-weight="normal" text-anchor="start" >TiO<tspan dy="2" font-size="6">2</tspan><tspan dy="-2">&#8203;</tspan>-001</text>
<path d="M531.4 139 C532.83 139.5 536.9 141 540 142 C543.1 143 546.67 144.12 550 145 C553.33 145.88 556.67 146.73 560 147.3 C563.33 147.87 566.67 148.12 570 148.4 C573.33 148.68 576.67 149.1 580 149 C583.33 148.9 586.67 148.47 590 147.8 C593.33 147.13 596.77 145.78 600 145 C603.23 144.22 605.63 144.07 609.4 143.1 C613.17 142.13 618.87 140.07 622.6 139.2 C626.33 138.33 628.9 138.73 631.8 137.9 C634.7 137.07 637.8 135.52 640 134.2 C642.2 132.88 643.33 131.53 645 130 C646.67 128.47 648.33 127 650 125 C651.67 123 653.33 120.7 655 118 C656.67 115.3 658.33 111.35 660 108.8 C661.67 106.25 663.67 103.92 665 102.7 C666.33 101.48 666.33 101.7 668 101.5 C669.67 101.3 673 100.92 675 101.5 C677 102.08 678.67 101.92 680 105 C681.33 108.08 680.9 114.17 683 120 C685.1 125.83 689.77 135.67 692.6 140 C695.43 144.33 696.77 144.67 700 146 C703.23 147.33 705.83 147.67 712 148 C718.17 148.33 732.83 148 737 148" fill="none" stroke="#3ee23a" stroke-width="1.1" stroke-linejoin="round" />
<path d="M531.4 140.6 C532.83 141 536.9 142.18 540 143 C543.1 143.82 546.67 144.75 550 145.5 C553.33 146.25 556.67 147.02 560 147.5 C563.33 147.98 566.67 148.15 570 148.4 C573.33 148.65 576.72 149.12 580 149 C583.28 148.88 586.37 148.53 589.7 147.7 C593.03 146.87 596.72 145.2 600 144 C603.28 142.8 606.4 141.67 609.4 140.5 C612.4 139.33 615.4 137.92 618 137 C620.6 136.08 622.5 135.92 625 135 C627.5 134.08 630.5 132.67 633 131.5 C635.5 130.33 638 129.42 640 128 C642 126.58 643.33 124.92 645 123 C646.67 121.08 648.67 119 650 116.5 C651.33 114 652.03 111.58 653 108 C653.97 104.42 654.92 99.67 655.8 95 C656.68 90.33 657.33 85.83 658.3 80 C659.27 74.17 660.4 66.67 661.6 60 C662.8 53.33 664.38 45.67 665.5 40 C666.62 34.33 667.32 29.6 668.3 26 C669.28 22.4 670.32 18.4 671.4 18.4 C672.48 18.4 673.6 22.4 674.8 26 C676 29.6 677.4 34.33 678.6 40 C679.8 45.67 680.92 53.33 682 60 C683.08 66.67 683.97 73.33 685.1 80 C686.23 86.67 687.47 93.33 688.8 100 C690.13 106.67 691 113.33 693.1 120 C695.2 126.67 698.33 135.5 701.4 140 C704.47 144.5 708.4 145.67 711.5 147 C714.6 148.33 715.75 147.83 720 148 C724.25 148.17 734.17 148 737 148" fill="none" stroke="#4a62d0" stroke-width="1.1" stroke-linejoin="round" />
<path d="M531.4 135.9 C532.83 136.58 536.9 138.73 540 140 C543.1 141.27 546.67 142.42 550 143.5 C553.33 144.58 556.67 145.75 560 146.5 C563.33 147.25 567.67 147.83 570 148 C572.33 148.17 572.33 147.33 574 147.5 C575.67 147.67 577.33 148.92 580 149 C582.67 149.08 586.67 148.5 590 148 C593.33 147.5 596.77 146.6 600 146 C603.23 145.4 606.07 145.1 609.4 144.4 C612.73 143.7 616.93 142.12 620 141.8 C623.07 141.48 625.63 142.72 627.8 142.5 C629.97 142.28 630.97 141.37 633 140.5 C635.03 139.63 638 138.38 640 137.3 C642 136.22 643.33 135.15 645 134 C646.67 132.85 648.33 132.07 650 130.4 C651.67 128.73 653.33 126.57 655 124 C656.67 121.43 658.67 118.33 660 115 C661.33 111.67 662 108.5 663 104 C664 99.5 665.08 93 666 88 C666.92 83 667.62 77.87 668.5 74 C669.38 70.13 670.47 65.3 671.3 64.8 C672.13 64.3 672.8 68.47 673.5 71 C674.2 73.53 674.5 75.17 675.5 80 C676.5 84.83 678.12 93.33 679.5 100 C680.88 106.67 681.62 113.33 683.8 120 C685.98 126.67 689.45 135.5 692.6 140 C695.75 144.5 698.97 145.67 702.7 147 C706.43 148.33 709.28 147.83 715 148 C720.72 148.17 733.33 148 737 148" fill="none" stroke="#f03a5a" stroke-width="1.1" stroke-linejoin="round" />
<path d="M531.4 135 C532.83 135.75 536.9 138.17 540 139.5 C543.1 140.83 546.67 142 550 143 C553.33 144 557 144.83 560 145.5 C563 146.17 566 146.83 568 147 C570 147.17 570.9 146.7 572 146.5 C573.1 146.3 573.77 145.63 574.6 145.8 C575.43 145.97 575.93 146.97 577 147.5 C578.07 148.03 578.83 148.92 581 149 C583.17 149.08 586.83 148.45 590 148 C593.17 147.55 596.77 146.78 600 146.3 C603.23 145.82 606.07 145.82 609.4 145.1 C612.73 144.38 616.93 142.33 620 142 C623.07 141.67 625.63 143.1 627.8 143.1 C629.97 143.1 630.97 142.72 633 142 C635.03 141.28 638 139.8 640 138.8 C642 137.8 643.33 137.02 645 136 C646.67 134.98 648.33 134.2 650 132.7 C651.67 131.2 653.33 129.45 655 127 C656.67 124.55 658.5 121.8 660 118 C661.5 114.2 662.75 109.03 664 104.2 C665.25 99.37 666.37 92.87 667.5 89 C668.63 85.13 669.72 81.5 670.8 81 C671.88 80.5 672.8 82.83 674 86 C675.2 89.17 676.57 94.33 678 100 C679.43 105.67 680.37 113.33 682.6 120 C684.83 126.67 688.27 135.5 691.4 140 C694.53 144.5 697.97 145.67 701.4 147 C704.83 148.33 706.07 147.83 712 148 C717.93 148.17 732.83 148 737 148" fill="none" stroke="#222" stroke-width="1.2" stroke-linejoin="round" />
<path d="M531.4 91.5 L568.5 143.2" fill="none" stroke="#f28066" stroke-width="1.1" stroke-dasharray="3.6,4.4"/><path d="M580.5 143.2 L650 91.5" fill="none" stroke="#f28066" stroke-width="1.1" stroke-dasharray="3.6,4.4"/><path d="M568.5 146.5 V143.2 H580.5 V146.5" fill="none" stroke="#f28066" stroke-width="1" stroke-dasharray="3,3"/>
<line x1="670.8" y1="13" x2="670.8" y2="113.5" stroke="#30304a" stroke-width="1.2" stroke-dasharray="2.2,2.6"/>
<text id="t52" x="671.9" y="124.6" font-family='"Liberation Serif", serif' font-size="9" fill="#111" font-weight="normal" text-anchor="middle"  textLength="16" lengthAdjust="spacingAndGlyphs" stroke="#111" stroke-width="0.25">1640</text>
<text id="t53" x="671" y="134.7" font-family='"Liberation Serif", serif' font-size="9.2" fill="#111" font-weight="normal" text-anchor="middle"  stroke="#111" stroke-width="0.25">H<tspan dy="2.2" font-size="6.5">2</tspan><tspan dy="-2.2">&#8203;</tspan>O</text>
<rect x="531.5" y="4.5" width="206.89999999999998" height="144.9" fill="none" stroke="#5a6060" stroke-width="1.3"/>
<line x1="531.4" y1="149.4" x2="531.4" y2="151.9" stroke="#5a6060" stroke-width="1" />
<line x1="557.2" y1="149.4" x2="557.2" y2="151.9" stroke="#5a6060" stroke-width="1" />
<line x1="583" y1="149.4" x2="583" y2="151.9" stroke="#5a6060" stroke-width="1" />
<line x1="608.8" y1="149.4" x2="608.8" y2="151.9" stroke="#5a6060" stroke-width="1" />
<line x1="634.6" y1="149.4" x2="634.6" y2="151.9" stroke="#5a6060" stroke-width="1" />
<line x1="660.4" y1="149.4" x2="660.4" y2="151.9" stroke="#5a6060" stroke-width="1" />
<line x1="686.2" y1="149.4" x2="686.2" y2="151.9" stroke="#5a6060" stroke-width="1" />
<line x1="712" y1="149.4" x2="712" y2="151.9" stroke="#5a6060" stroke-width="1" />
<text id="t54" x="557.2" y="160.5" font-family='"Liberation Serif", serif' font-size="8.8" fill="#111" font-weight="normal" text-anchor="middle"  stroke="#111" stroke-width="0.15">1200</text>
<text id="t55" x="608.8" y="160.5" font-family='"Liberation Serif", serif' font-size="8.8" fill="#111" font-weight="normal" text-anchor="middle"  stroke="#111" stroke-width="0.15">1400</text>
<text id="t56" x="660.4" y="160.5" font-family='"Liberation Serif", serif' font-size="8.8" fill="#111" font-weight="normal" text-anchor="middle"  stroke="#111" stroke-width="0.15">1600</text>
<text id="t57" x="712" y="160.5" font-family='"Liberation Serif", serif' font-size="8.8" fill="#111" font-weight="normal" text-anchor="middle"  stroke="#111" stroke-width="0.15">1800</text>
<text id="t58" x="635.2" y="172.2" font-family='"Liberation Serif", serif' font-size="11" fill="#111" font-weight="normal" text-anchor="middle"  textLength="86.5" lengthAdjust="spacingAndGlyphs" stroke="#111" stroke-width="0.12">Wavenumber (cm<tspan dy="-4" font-size="7">-1</tspan><tspan dy="4">&#8203;</tspan>)</text>
<text id="t59" x="0" y="0" font-family='"Liberation Serif", serif' font-size="11.3" fill="#111" font-weight="normal" text-anchor="middle" transform="translate(523.5,80) rotate(-90)" stroke="#111" stroke-width="0.2">Absorbance (a.u.)</text>
<rect x="531.4" y="4.3" width="118" height="87" fill="#fff" stroke="#5a6060" stroke-width="1.1"/>
<clipPath id="ci"><rect x="531.4" y="4.3" width="118" height="87"/></clipPath>
<g clip-path="url(#ci)">
<path d="M531.4 87.3 C533.67 87.55 541.33 88.3 545 88.8 C548.67 89.3 550.43 90.23 553.4 90.3 C556.37 90.37 559.65 89.9 562.8 89.2 C565.95 88.5 569.32 87.5 572.3 86.1 C575.28 84.7 577.9 82.73 580.7 80.8 C583.5 78.87 586.67 75.97 589.1 74.5 C591.53 73.03 592.98 72.08 595.3 72 C597.62 71.92 600.73 72.98 603 74 C605.27 75.02 606.42 76.3 608.9 78.1 C611.38 79.9 614.92 83.12 617.9 84.8 C620.88 86.48 623.82 87.45 626.8 88.2 C629.78 88.95 632.82 89.48 635.8 89.3 C638.78 89.12 642.45 87.65 644.7 87.1 C646.95 86.55 648.53 86.18 649.3 86" fill="none" stroke="#3ee23a" stroke-width="1.1" stroke-linejoin="round" />
<path d="M531.4 86.1 C533.67 86.33 541.33 86.98 545 87.5 C548.67 88.02 550.43 89.27 553.4 89.2 C556.37 89.13 559.65 88.32 562.8 87.1 C565.95 85.88 569.32 84.52 572.3 81.9 C575.28 79.28 577.9 75.6 580.7 71.4 C583.5 67.2 586.48 60.43 589.1 56.7 C591.72 52.97 594.32 50.62 596.4 49 C598.48 47.38 599.52 46.8 601.6 47 C603.68 47.2 606.18 48.18 608.9 50.2 C611.62 52.22 614.92 55.18 617.9 59.1 C620.88 63.02 623.82 69.6 626.8 73.7 C629.78 77.8 632.82 81.58 635.8 83.7 C638.78 85.82 642.45 86.35 644.7 86.4 C646.95 86.45 648.53 84.4 649.3 84" fill="none" stroke="#4a62d0" stroke-width="1.1" stroke-linejoin="round" />
<path d="M531.4 66.5 C533.67 67.32 541.33 69.88 545 71.4 C548.67 72.92 550.43 74.45 553.4 75.6 C556.37 76.75 559.65 78.3 562.8 78.3 C565.95 78.3 569.32 77.45 572.3 75.6 C575.28 73.75 577.9 70.87 580.7 67.2 C583.5 63.53 586.48 57.45 589.1 53.6 C591.72 49.75 594.32 46.03 596.4 44.1 C598.48 42.17 599.52 41.92 601.6 42 C603.68 42.08 606.18 42.68 608.9 44.6 C611.62 46.52 614.92 49.4 617.9 53.5 C620.88 57.6 623.82 64.53 626.8 69.2 C629.78 73.87 632.82 78.52 635.8 81.5 C638.78 84.48 642.45 86.17 644.7 87.1 C646.95 88.03 648.53 87.1 649.3 87.1" fill="none" stroke="#f03a5a" stroke-width="1.1" stroke-linejoin="round" />
<path d="M531.4 55.1 C533.67 56.07 541.33 59.23 545 60.9 C548.67 62.57 550.43 63.88 553.4 65.1 C556.37 66.32 559.65 68.2 562.8 68.2 C565.95 68.2 569.32 66.83 572.3 65.1 C575.28 63.37 577.9 61.12 580.7 57.8 C583.5 54.48 586.48 49.05 589.1 45.2 C591.72 41.35 594 37.15 596.4 34.7 C598.8 32.25 601.42 30.9 603.5 30.5 C605.58 30.1 606.5 30.7 608.9 32.3 C611.3 33.9 614.92 35.82 617.9 40.1 C620.88 44.38 623.82 52.03 626.8 58 C629.78 63.97 632.82 71.43 635.8 75.9 C638.78 80.37 642.45 83.12 644.7 84.8 C646.95 86.48 648.53 85.8 649.3 86" fill="none" stroke="#333" stroke-width="1.1" stroke-linejoin="round" />
</g>
<line x1="603.2" y1="26" x2="603.2" y2="79" stroke="#30304a" stroke-width="1.2" stroke-dasharray="2.5,2.4"/>
<text id="t60" x="589.5" y="22.2" font-family='"Liberation Serif", serif' font-size="9.2" fill="#111" font-weight="normal" text-anchor="start"  stroke="#111" stroke-width="0.2">1267 CO<tspan dy="2.5" font-size="6.5">2</tspan><tspan dy="-2.5">&#8203;</tspan><tspan dy="-5" font-size="6.5">-</tspan><tspan dy="5">&#8203;</tspan></text>
<text id="t61" x="534" y="52.6" font-family='"Liberation Serif", serif' font-size="9.2" fill="#111" font-weight="normal" text-anchor="start"  stroke="#111" stroke-width="0.2">d</text>
<text id="t62" x="534" y="66" font-family='"Liberation Serif", serif' font-size="9.2" fill="#111" font-weight="normal" text-anchor="start"  stroke="#111" stroke-width="0.2">c</text>
<text id="t63" x="616.6" y="76.8" font-family='"Liberation Serif", serif' font-size="9.2" fill="#222" font-weight="normal" text-anchor="start"  stroke="#222" stroke-width="0.2">b</text>
<text id="t64" x="618" y="89.3" font-family='"Liberation Serif", serif' font-size="9.2" fill="#333" font-weight="normal" text-anchor="start"  stroke="#333" stroke-width="0.2">a</text>
<line x1="531.4" y1="91.3" x2="531.4" y2="89.5" stroke="#5a6060" stroke-width="0.8" />
<text id="t65" x="531.4" y="97.8" font-family='"Liberation Serif", serif' font-size="5.2" fill="#111" font-weight="normal" text-anchor="middle" >1230</text>
<line x1="560.85" y1="91.3" x2="560.85" y2="89.5" stroke="#5a6060" stroke-width="0.8" />
<text id="t66" x="560.85" y="97.8" font-family='"Liberation Serif", serif' font-size="5.2" fill="#111" font-weight="normal" text-anchor="middle" >1245</text>
<line x1="590.29" y1="91.3" x2="590.29" y2="89.5" stroke="#5a6060" stroke-width="0.8" />
<text id="t67" x="590.29" y="97.8" font-family='"Liberation Serif", serif' font-size="5.2" fill="#111" font-weight="normal" text-anchor="middle" >1260</text>
<line x1="619.74" y1="91.3" x2="619.74" y2="89.5" stroke="#5a6060" stroke-width="0.8" />
<text id="t68" x="619.74" y="97.8" font-family='"Liberation Serif", serif' font-size="5.2" fill="#111" font-weight="normal" text-anchor="middle" >1275</text>
<line x1="649.18" y1="91.3" x2="649.18" y2="89.5" stroke="#5a6060" stroke-width="0.8" />
<text id="t69" x="649.18" y="97.8" font-family='"Liberation Serif", serif' font-size="5.2" fill="#111" font-weight="normal" text-anchor="middle" >1290</text>
<rect x="295" y="331.52" width="14.6" height="4.68" fill="#111111" stroke="#3a3a7a" stroke-width="0.5"/>
<rect x="330.5" y="297.16" width="14.3" height="39.04" fill="#ee2222" stroke="#3a3a7a" stroke-width="0.5"/>
<rect x="365.7" y="252.92" width="14.5" height="83.28" fill="#66e000" stroke="#3a3a7a" stroke-width="0.5"/>
<rect x="401.5" y="184.91" width="13.8" height="151.29" fill="#2a48e0" stroke="#3a3a7a" stroke-width="0.5"/>
<rect x="436.2" y="243.9" width="14.6" height="92.3" fill="#80f4a4" stroke="#3a3a7a" stroke-width="0.5"/>
<rect x="470.8" y="297.34" width="15.1" height="38.86" fill="#9a30c8" stroke="#3a3a7a" stroke-width="0.5"/>
<path d="M284.9 336.3 V179.5 H496.5" fill="none" stroke="#5a6060" stroke-width="1.6"/>
<path d="M496.5 179.5 V336.3 H284.9" fill="none" stroke="#484c8c" stroke-width="1.4"/>
<line x1="282.4" y1="336.2" x2="284.9" y2="336.2" stroke="#5a6060" stroke-width="1" />
<line x1="283.1" y1="318.85" x2="284.9" y2="318.85" stroke="#5a6060" stroke-width="1" />
<line x1="282.4" y1="301.5" x2="284.9" y2="301.5" stroke="#5a6060" stroke-width="1" />
<line x1="283.1" y1="284.15" x2="284.9" y2="284.15" stroke="#5a6060" stroke-width="1" />
<line x1="282.4" y1="266.8" x2="284.9" y2="266.8" stroke="#5a6060" stroke-width="1" />
<line x1="283.1" y1="249.45" x2="284.9" y2="249.45" stroke="#5a6060" stroke-width="1" />
<line x1="282.4" y1="232.1" x2="284.9" y2="232.1" stroke="#5a6060" stroke-width="1" />
<line x1="283.1" y1="214.75" x2="284.9" y2="214.75" stroke="#5a6060" stroke-width="1" />
<line x1="282.4" y1="197.4" x2="284.9" y2="197.4" stroke="#5a6060" stroke-width="1" />
<text id="t70" x="278" y="339.1" font-family='"Liberation Serif", serif' font-size="8.8" fill="#111" font-weight="normal" text-anchor="middle"  stroke="#111" stroke-width="0.2">0</text>
<text id="t71" x="278" y="304.4" font-family='"Liberation Serif", serif' font-size="8.8" fill="#111" font-weight="normal" text-anchor="middle"  stroke="#111" stroke-width="0.2">2</text>
<text id="t72" x="278" y="269.7" font-family='"Liberation Serif", serif' font-size="8.8" fill="#111" font-weight="normal" text-anchor="middle"  stroke="#111" stroke-width="0.2">4</text>
<text id="t73" x="278" y="235" font-family='"Liberation Serif", serif' font-size="8.8" fill="#111" font-weight="normal" text-anchor="middle"  stroke="#111" stroke-width="0.2">6</text>
<text id="t74" x="278" y="200.3" font-family='"Liberation Serif", serif' font-size="8.8" fill="#111" font-weight="normal" text-anchor="middle"  stroke="#111" stroke-width="0.2">8</text>
<text id="t75" x="0" y="0" font-family='"Liberation Serif", serif' font-size="12.1" fill="#111" font-weight="normal" text-anchor="middle" transform="translate(265.5,259) rotate(-90)">Production of CH<tspan dy="2.5" font-size="7.5">4</tspan><tspan dy="-2.5">&#8203;</tspan> (&#956;molg<tspan dy="-4" font-size="7">-1</tspan><tspan dy="4">&#8203;</tspan>h<tspan dy="-4" font-size="7">-1</tspan><tspan dy="4">&#8203;</tspan>)</text>
<text id="t76" x="0" y="0" font-family='"Liberation Serif", serif' font-size="8.6" fill="#111" font-weight="normal" text-anchor="start" transform="translate(303.8,329.5) rotate(-90)">TiO<tspan dy="2" font-size="6">2</tspan><tspan dy="-2">&#8203;</tspan></text>
<text id="t77" x="0" y="0" font-family='"Liberation Serif", serif' font-size="9.1" fill="#111" font-weight="normal" text-anchor="start" transform="translate(339.8,335.5) rotate(-90)">Cu-TiO<tspan dy="2" font-size="6.5">2</tspan><tspan dy="-2">&#8203;</tspan>-0.5</text>
<text id="t78" x="0" y="0" font-family='"Liberation Serif", serif' font-size="9.4" fill="#111" font-weight="normal" text-anchor="start" transform="translate(376.6,335.5) rotate(-90)">Cu-TiO-0.75</text>
<text id="t79" x="0" y="0" font-family='"Liberation Serif", serif' font-size="9.2" fill="#eef2ff" font-weight="normal" text-anchor="start" transform="translate(409.6,335.5) rotate(-90)">Cu-TiO<tspan dy="2" font-size="6.5">2</tspan><tspan dy="-2">&#8203;</tspan>-1.0</text>
<text id="t80" x="0" y="0" font-family='"Liberation Serif", serif' font-size="9.3" fill="#111" font-weight="normal" text-anchor="start" transform="translate(444.8,335.5) rotate(-90)">Cu-TiO<tspan dy="2" font-size="6.5">2</tspan><tspan dy="-2">&#8203;</tspan>-1.5</text>
<text id="t81" x="0" y="0" font-family='"Liberation Serif", serif' font-size="9.3" fill="#3a2060" font-weight="normal" text-anchor="start" transform="translate(480,334.5) rotate(-90)">Cu-TiO<tspan dy="2" font-size="6.5">2</tspan><tspan dy="-2">&#8203;</tspan>-2.0</text>
<defs><linearGradient id="eg" x1="0" y1="0" x2="0" y2="1"><stop offset="0" stop-color="#a8f436"/><stop offset="0.07" stop-color="#b2f44c"/><stop offset="0.16" stop-color="#cdf592"/><stop offset="0.26" stop-color="#e8fbcc"/><stop offset="0.34" stop-color="#f5fdec"/><stop offset="0.46" stop-color="#fdfffb"/><stop offset="0.54" stop-color="#ffffff"/><stop offset="0.64" stop-color="#f0fce4"/><stop offset="0.8" stop-color="#cff69a"/><stop offset="0.93" stop-color="#aef248"/><stop offset="1" stop-color="#a2f034"/></linearGradient></defs>
<rect x="519" y="180" width="236" height="155.5" fill="url(#eg)"/>
<rect x="532.2" y="266.6" width="204" height="62.4" fill="#f7ba8c"/>
<line x1="532.2" y1="266.5" x2="736.2" y2="266.5" stroke="#222" stroke-width="1.2" />
<line x1="599.3" y1="262" x2="599.3" y2="276.5" stroke="#333" stroke-width="1" />
<line x1="664.3" y1="241" x2="664.3" y2="254" stroke="#333" stroke-width="1" />
<line x1="664.3" y1="263" x2="664.3" y2="277" stroke="#333" stroke-width="1" />
<line x1="603.5" y1="259.8" x2="620.8" y2="259.8" stroke="#333" stroke-width="1" />
<line x1="640" y1="259.8" x2="657" y2="259.8" stroke="#333" stroke-width="1" />
<line x1="670" y1="259.8" x2="685" y2="259.8" stroke="#333" stroke-width="1" />
<circle cx="630.4" cy="258.6" r="9.4" fill="#fff" stroke="#c8d4c8" stroke-width="1"/>
<text id="t82" x="631" y="262.6" font-family='"Liberation Serif", serif' font-size="10" fill="#111" font-weight="normal" text-anchor="middle" >Vo</text>
<text id="t83" x="598.5" y="262.4" font-family='"Liberation Serif", serif' font-size="10.8" fill="#111" font-weight="normal" text-anchor="middle" >Ti</text>
<text id="t84" x="663.6" y="262.4" font-family='"Liberation Serif", serif' font-size="11.4" fill="#111" font-weight="normal" text-anchor="middle" >Ti</text>
<text id="t85" x="690.3" y="262.4" font-family='"Liberation Serif", serif' font-size="10.8" fill="#111" font-weight="normal" text-anchor="middle" >O</text>
<ellipse cx="663.2" cy="229.5" rx="14.5" ry="10.8" fill="#d2f6a2" stroke="#ec4464" stroke-width="1.2"/>
<text id="t86" x="664.2" y="233.9" font-family='"Liberation Serif", serif' font-size="11.6" fill="#111" font-weight="normal" text-anchor="middle"  stroke="#111" stroke-width="0.15">Cu(I)</text>
<text id="t87" x="644.8" y="219.4" font-family='"Liberation Serif", serif' font-size="10" fill="#111" font-weight="normal" text-anchor="start" >&#183;CO<tspan dy="2" font-size="6.5">2</tspan><tspan dy="-2">&#8203;</tspan><tspan dx="-3.5" dy="-4" font-size="6.5">-</tspan></text>
<text id="t88" x="675.6" y="223.9" font-family='"Liberation Serif", serif' font-size="9.6" fill="#111" font-weight="normal" text-anchor="start" >H&#183;</text>
<text id="t89" x="671" y="193.3" font-family='"Liberation Serif", serif' font-size="9.8" fill="#111" font-weight="normal" text-anchor="start" >CH<tspan dy="2" font-size="6.5">4</tspan><tspan dy="-2">&#8203;</tspan></text>
<path d="M660.4 210.5 Q661.2 205.3 664.4 205.2 L668.5 205.6 Q670.6 205.9 671.4 206.6 Q672.8 207.7 676 208.3 Q678.6 208.9 678.6 211.5 L678.6 215.5" fill="none" stroke="#333" stroke-width="1"/>
<line x1="671.4" y1="206.4" x2="674.2" y2="199.5" stroke="#333" stroke-width="1" />
<path d="M675.2 196.3 L672.4 200.3 L676 201.2 Z" fill="#222"/>
<text id="t90" x="591" y="235.2" font-family='"Liberation Serif", serif' font-size="10" fill="#111" font-weight="normal" text-anchor="start" >CO<tspan dy="2" font-size="6.5">2</tspan><tspan dy="-2">&#8203;</tspan></text>
<text id="t91" x="626" y="245" font-family='"Liberation Serif", serif' font-size="10" fill="#111" font-weight="normal" text-anchor="start" >&#183;CO<tspan dy="2" font-size="6.5">2</tspan><tspan dy="-2">&#8203;</tspan><tspan dx="-3.5" dy="-4" font-size="6.5">-</tspan></text>
<path d="M603.5 237 Q606 252 630 247.5" fill="none" stroke="#222" stroke-width="1.2"/>
<path d="M632.5 246.2 L627.2 245.3 L628.8 250 Z" fill="#222"/>
<path d="M640 239 Q649 236 650.5 225" fill="none" stroke="#222" stroke-width="1.1"/>
<path d="M651 221.8 L648.3 226 L652.8 226.3 Z" fill="#222"/>
<path d="M700 249.5 Q684 245 678.5 228.5" fill="none" stroke="#222" stroke-width="1.1"/>
<path d="M677.5 225.8 L677.3 231 L681.2 229.5 Z" fill="#222"/>
<text id="t92" x="699.3" y="253.9" font-family='"Liberation Serif", serif' font-size="9.6" fill="#111" font-weight="normal" text-anchor="start" >H&#183;</text>
<text id="t93" x="735" y="264.6" font-family='"Liberation Serif", serif' font-size="9.6" fill="#111" font-weight="normal" text-anchor="start" >H<tspan dy="-3.5" font-size="7">+</tspan><tspan dy="3.5">&#8203;</tspan></text>
<path d="M734 262.5 Q720 268 708 262 Q705 260 704 257.5" fill="none" stroke="#222" stroke-width="1.1"/>
<path d="M703.2 255 L702.5 259.8 L706.5 258.7 Z" fill="#222"/>
<text id="t94" x="530.5" y="262.9" font-family='"Liberation Serif", serif' font-size="9.6" fill="#111" font-weight="normal" text-anchor="start" >OH&#183;</text>
<text id="t95" x="554" y="257.9" font-family='"Liberation Serif", serif' font-size="9.6" fill="#111" font-weight="normal" text-anchor="start" >O<tspan dy="2" font-size="6.5">2</tspan><tspan dy="-2">&#8203;</tspan></text>
<path d="M535 265.5 Q550 268.5 562 261.5" fill="none" stroke="#222" stroke-width="1.1"/>
<path d="M564.6 259.6 L559.4 260.4 L561.8 264.2 Z" fill="#222"/>
<text id="t96" x="551" y="193.5" font-family='"Liberation Serif", serif' font-size="1" fill="#111" font-weight="normal" text-anchor="start" ></text>
<text id="t97" x="547.8" y="227" font-family='"Liberation Sans", sans-serif' font-size="11.6" fill="#7434c4" font-weight="normal" text-anchor="start"  textLength="12" lengthAdjust="spacingAndGlyphs" stroke="#7434c4" stroke-width="0.1">hv</text>
<path d="M555.4 228.4 C556.53 228.8 564.46 230.24 565.1 231.8 C565.74 233.36 559.92 240.83 560.9 241.8 C561.88 242.77 572.32 238.83 573.5 240.1 C574.68 241.37 569.73 251.32 571 252.7 C572.27 254.08 583.17 250.43 584.4 251.9 C585.62 253.37 580.22 263.68 581.5 265.3 C582.78 266.92 594.14 264.32 595.4 265.8 C596.66 267.28 591.13 276.75 592.3 278 C593.47 279.25 604.23 275.33 605.4 276.5 C606.57 277.67 601.04 286.74 602.3 288 C603.56 289.26 614.43 286.25 616.2 287.3 C617.97 288.35 617.35 295.87 617.5 297" fill="none" stroke="#7e3ccc" stroke-width="1.3" stroke-linejoin="round"/>
<path d="M617.8 301 L614.2 295.5 L620.2 295.3 Z" fill="#7e3ccc"/>
<circle cx="551.5" cy="273.4" r="6.2" fill="#b6eec4" stroke="#5a6a5a" stroke-width="0.9"/>
<line x1="548.7" y1="273.4" x2="554.3" y2="273.4" stroke="#111" stroke-width="1.5" />
<line x1="551.5" y1="270.6" x2="551.5" y2="276.2" stroke="#111" stroke-width="1.5" />
<circle cx="614.2" cy="308.2" r="6.2" fill="#b6eec4" stroke="#5a6a5a" stroke-width="0.9"/>
<line x1="611.4" y1="308.2" x2="617" y2="308.2" stroke="#111" stroke-width="1.5" />
<line x1="614.2" y1="305.4" x2="614.2" y2="311" stroke="#111" stroke-width="1.5" />
<circle cx="627.4" cy="308.2" r="6.2" fill="#b6eec4" stroke="#5a6a5a" stroke-width="0.9"/>
<line x1="625.8" y1="308.2" x2="629" y2="308.2" stroke="#111" stroke-width="1.5" />
<circle cx="718.2" cy="273.5" r="6.2" fill="#b6eec4" stroke="#5a6a5a" stroke-width="0.9"/>
<line x1="716.6" y1="273.5" x2="719.8" y2="273.5" stroke="#111" stroke-width="1.5" />
<path d="M607.8 309.8 Q565 310 551.3 282" fill="none" stroke="#222" stroke-width="1.1"/>
<path d="M551 279.6 L549 284.8 L553.4 284.6 Z" fill="#222"/>
<path d="M633.6 309.5 Q690 308 715 281.5" fill="none" stroke="#222" stroke-width="1.1"/>
<path d="M716.8 279.3 L711.8 281.5 L715.5 284.5 Z" fill="#222"/>
<text id="t98" x="684.2" y="320.8" font-family='"Liberation Serif", serif' font-size="11.6" fill="#111" font-weight="normal" text-anchor="start" >TiO<tspan dy="2.5" font-size="7.5">2</tspan><tspan dy="-2.5">&#8203;</tspan></text>
</svg>
</body></html>
